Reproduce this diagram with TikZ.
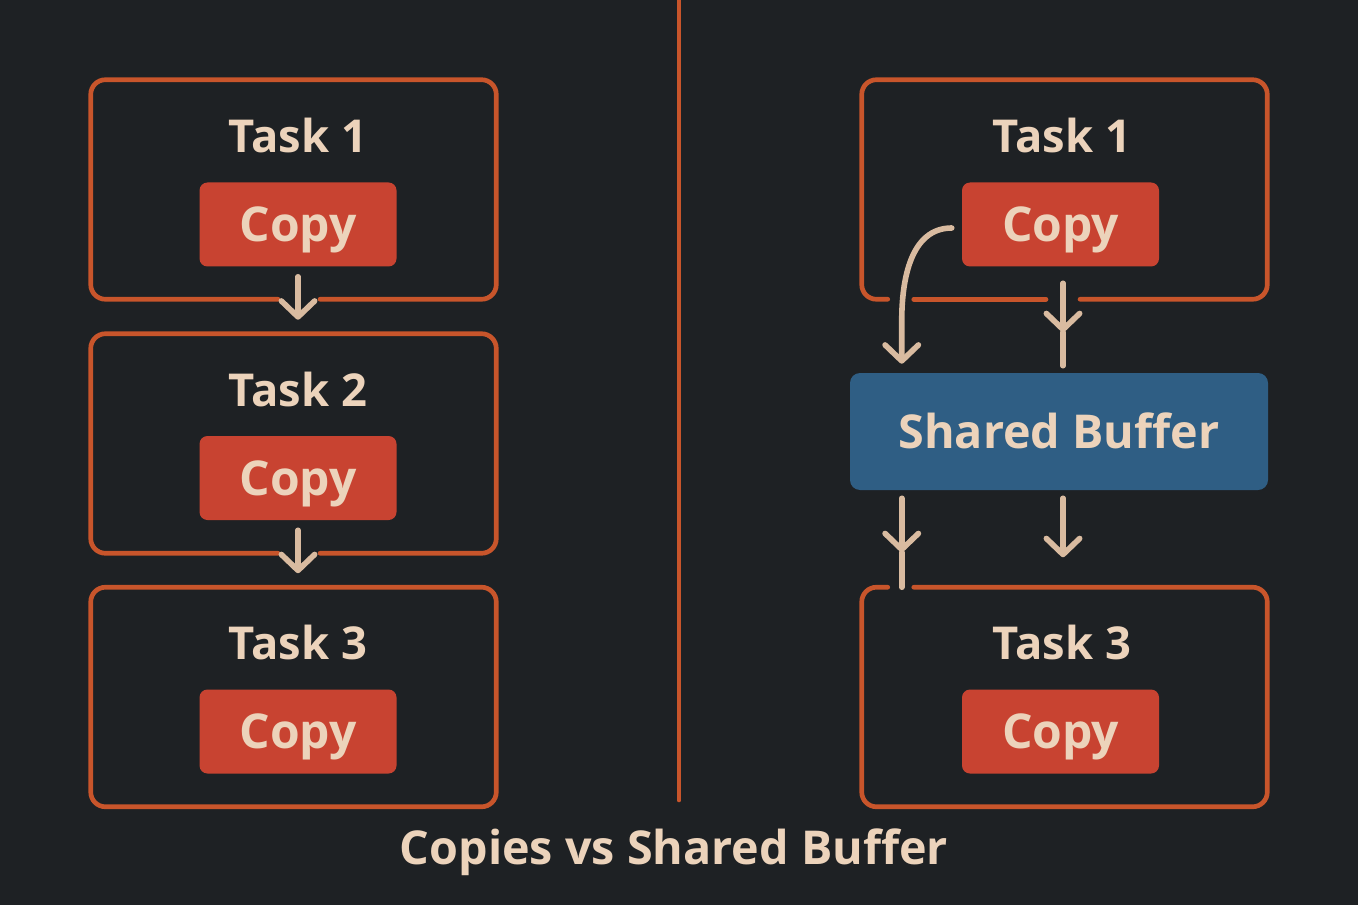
\documentclass[tikz,border=0pt]{standalone}
\usepackage{fontspec}
\setmainfont{Open Sans}
\usetikzlibrary{arrows.meta,calc}
\definecolor{bg}{HTML}{1E2124}
\definecolor{framec}{HTML}{C8552B}
\definecolor{copyfill}{HTML}{C84331}
\definecolor{cream}{HTML}{ECD3BB}
\definecolor{bufblue}{HTML}{2F5E84}
\definecolor{arrowc}{HTML}{D9BBA0}
\begin{document}
\begin{tikzpicture}[x=0.75pt,y=-0.75pt,
  taskframe/.style={draw=none, minimum width=405*0.75pt, minimum height=219*0.75pt, inner sep=0pt},
  outline/.style={draw=framec, line width=3.5pt, rounded corners=11pt, line cap=round},
  copybox/.style={fill=copyfill, rounded corners=6pt, minimum width=197*0.75pt, minimum height=84*0.75pt,
    text=cream, font=\fontsize{36}{40}\selectfont\bfseries, inner sep=0pt, text height=25.7pt, text depth=0pt},
  tasklabel/.style={text=cream, font=\fontsize{34}{38}\selectfont\bfseries, inner sep=0pt, text height=24.3pt, text depth=0pt},
  bufbox/.style={fill=bufblue, rounded corners=7.5pt, minimum width=418*0.75pt, minimum height=117*0.75pt,
    text=cream, font=\fontsize{35}{40}\selectfont\bfseries, inner sep=0pt, text height=25pt, text depth=0pt},
  conn/.style={draw=arrowc, line width=4.2pt, line cap=round, -{Straight Barb[length=12pt,width=25pt,round]}},
  connline/.style={draw=arrowc, line width=4.2pt, line cap=round},
  titlestyle/.style={text=cream, font=\fontsize{35}{40}\selectfont\bfseries, inner sep=0pt, text height=25pt, text depth=0pt}
]
\fill[bg] (0,0) rectangle (1358,905);
\useasboundingbox (0,0) rectangle (1358,905);

% divider
\draw[draw=framec, line width=3.5pt, line cap=round] (679,0) -- (679,800);

% left column
\node[taskframe] (L1) at (293.5,189.5) {};
\node[taskframe] (L2) at (293.5,443.5) {};
\node[taskframe] (L3) at (293.5,697) {};
\node[tasklabel] (TL1) at (298,136) {Task 1};
\node[tasklabel] (TL2) at (298,390) {Task 2};
\node[tasklabel] (TL3) at (298,643) {Task 3};
\node[copybox] (CL1) at (298,224.5) {Copy};
\node[copybox] (CL2) at (298,478) {Copy};
\node[copybox] (CL3) at (298,731.5) {Copy};

\draw[outline] ($(L1.south)+(26.5,0)$) -- (L1.south east) -- (L1.north east) -- (L1.north west) -- (L1.south west) -- ($(L1.south)+(-15.5,0)$);
\draw[outline] ($(L2.south)+(26.5,0)$) -- (L2.south east) -- (L2.north east) -- (L2.north west) -- (L2.south west) -- ($(L2.south)+(-15.5,0)$);
\draw[outline] (L3.south west) rectangle (L3.north east);

\draw[conn] ($(CL1.south)+(0,10)$) -- ($(CL1.south |- L2.north)+(0,-14)$);
\draw[conn] ($(CL2.south)+(0,10)$) -- ($(CL2.south |- L3.north)+(0,-14)$);

% right column
\node[taskframe] (R1) at (1064.5,189.5) {};
\node[taskframe] (R3) at (1064.5,697) {};
\node[tasklabel] (TR1) at (1062,136) {Task 1};
\node[tasklabel] (TR3) at (1062,643) {Task 3};
\node[copybox] (CR1) at (1060.5,224.5) {Copy};
\node[copybox] (CR3) at (1060.5,731.5) {Copy};
\node[bufbox] (B) at (1059,431.5) {Shared Buffer};

\draw[outline] ($(R1.south)+(15.5,0)$) -- (R1.south east) -- (R1.north east) -- (R1.north west) -- (R1.south west) -- ($(R1.south west)+(26,0)$);
\draw[outline] ($(R1.south west)+(52,0)$) -- ($(R1.south)+(-18.5,0)$);
\draw[outline] ($(R3.north west)+(52,0)$) -- (R3.north east) -- (R3.south east) -- (R3.south west) -- (R3.north west) -- ($(R3.north west)+(26,0)$);

% curved arrow from Copy to buffer
\coordinate (cs) at ($(CR1.west)+(-10,3.5)$);
\coordinate (cb) at ($(B.north west)+(52,-52)$);
\draw[conn] (cs) to[out=180,in=90] (cb) -- ($(B.north west)+(52,-9)$);

% straight arrow from Copy to buffer (mid head)
\coordinate (sa) at ($(CR1.south)+(2.5,16.5)$);
\coordinate (sm) at ($(CR1.south)+(2.5,65.5)$);
\draw[connline] (sm) -- ($(sa |- B.north)+(0,-7)$);
\draw[conn] (sa) -- (sm);

% lower arrows
\coordinate (la) at ($(B.south west)+(52,8)$);
\coordinate (lm) at ($(B.south west)+(52,62)$);
\draw[connline] (lm) -- (la |- R3.north);
\draw[conn] (la) -- (lm);
\coordinate (ra) at ($(B.south)+(4,8)$);
\draw[conn] (ra) -- ($(ra)+(0,59)$);

% title
\node[titlestyle] (title) at (674,848) {Copies vs Shared Buffer};
\end{tikzpicture}
\end{document}
